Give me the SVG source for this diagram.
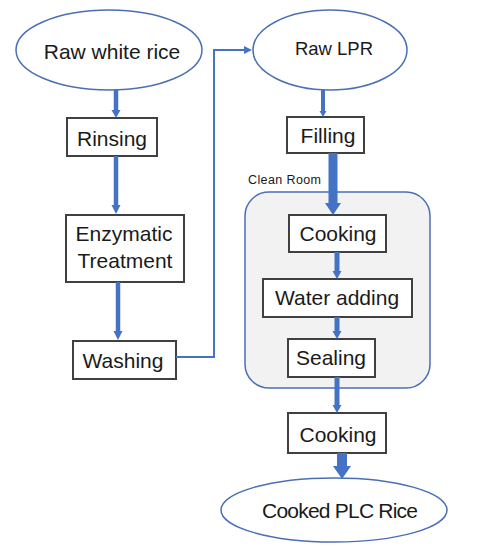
<svg xmlns="http://www.w3.org/2000/svg" width="490" height="550" viewBox="0 0 490 550">
<style>
.box{fill:#ffffff;stroke:#404040;stroke-width:2}
.ell{fill:#ffffff;stroke:#4a6fb5;stroke-width:1.5}
.room{fill:#f2f2f2;stroke:#4a6fb5;stroke-width:1.5}
.t{font-family:"Liberation Sans",Arial,sans-serif;font-size:21px;fill:#1a1a1a;text-anchor:middle}
.small{font-family:"Liberation Sans",Arial,sans-serif;font-size:12.5px;fill:#1a1a1a}
.sh{stroke:#4472c4;fill:none}
.hd{fill:#4472c4;stroke:none}
</style>
<rect width="490" height="550" fill="#ffffff"/>
<g id="clean-room">
<rect class="room" x="245" y="192" width="185" height="196" rx="24"/>
<text class="small" x="248" y="184" textLength="73">Clean Room</text>
</g>
<g id="raw-white-rice">
<ellipse class="ell" cx="109" cy="50" rx="93" ry="40"/>
<text class="t" x="112" y="59">Raw white rice</text>
</g>
<g id="rinsing">
<rect class="box" x="67" y="118" width="90" height="38"/>
<text class="t" x="112" y="146">Rinsing</text>
</g>
<g id="enzymatic-treatment">
<rect class="box" x="66" y="215" width="118" height="67"/>
<text class="t" x="124" y="241">Enzymatic</text>
<text class="t" x="125" y="268">Treatment</text>
</g>
<g id="washing">
<rect class="box" x="73" y="341" width="103" height="38"/>
<text class="t" x="123" y="368">Washing</text>
</g>
<g id="raw-lpr">
<ellipse class="ell" cx="330" cy="50" rx="77" ry="40"/>
<text class="t" x="334" y="55" style="font-size:18.5px">Raw LPR</text>
</g>
<g id="filling">
<rect class="box" x="287" y="117" width="77" height="36"/>
<text class="t" x="328" y="143">Filling</text>
</g>
<g id="cooking-1">
<rect class="box" x="289" y="215" width="97" height="37"/>
<text class="t" x="338" y="241">Cooking</text>
</g>
<g id="water-adding">
<rect class="box" x="263" y="279" width="149" height="38"/>
<text class="t" x="337" y="305">Water adding</text>
</g>
<g id="sealing">
<rect class="box" x="288" y="339" width="87" height="38"/>
<text class="t" x="331" y="365">Sealing</text>
</g>
<g id="cooking-2">
<rect class="box" x="288" y="413" width="98" height="40"/>
<text class="t" x="338" y="442">Cooking</text>
</g>
<g id="cooked-plc-rice">
<ellipse class="ell" cx="334" cy="510" rx="113" ry="32"/>
<text class="t" x="340" y="518" textLength="156">Cooked PLC Rice</text>
</g>
<g id="connectors">
<line class="sh" x1="116" y1="90" x2="116" y2="111" stroke-width="4.5"/>
<polygon class="hd" points="111.5,110 120.5,110 116,118"/>
<line class="sh" x1="116" y1="156" x2="116" y2="206" stroke-width="4.5"/>
<polygon class="hd" points="111.5,205 120.5,205 116,214"/>
<line class="sh" x1="118" y1="282" x2="118" y2="332" stroke-width="4.5"/>
<polygon class="hd" points="113.5,331 122.5,331 118,340"/>
<polyline class="sh" points="176,357 214,357 214,50 245,50" stroke-width="2"/>
<polygon class="hd" points="244,46 252,50 244,54"/>
<line class="sh" x1="323" y1="90" x2="323" y2="112" stroke-width="4"/>
<polygon class="hd" points="319.5,111 326.5,111 323,117"/>
<line class="sh" x1="333" y1="153" x2="333" y2="204" stroke-width="9"/>
<polygon class="hd" points="325,203 341,203 333,215"/>
<line class="sh" x1="337" y1="252" x2="337" y2="272" stroke-width="5"/>
<polygon class="hd" points="332.5,271 341.5,271 337,279"/>
<line class="sh" x1="337" y1="317" x2="337" y2="332" stroke-width="5"/>
<polygon class="hd" points="332.5,331 341.5,331 337,339"/>
<line class="sh" x1="337" y1="377" x2="337" y2="406" stroke-width="5"/>
<polygon class="hd" points="332.5,405 341.5,405 337,413"/>
<line class="sh" x1="342" y1="453" x2="342" y2="467" stroke-width="10"/>
<polygon class="hd" points="333,466 351,466 342,479"/>
</g>
</svg>
